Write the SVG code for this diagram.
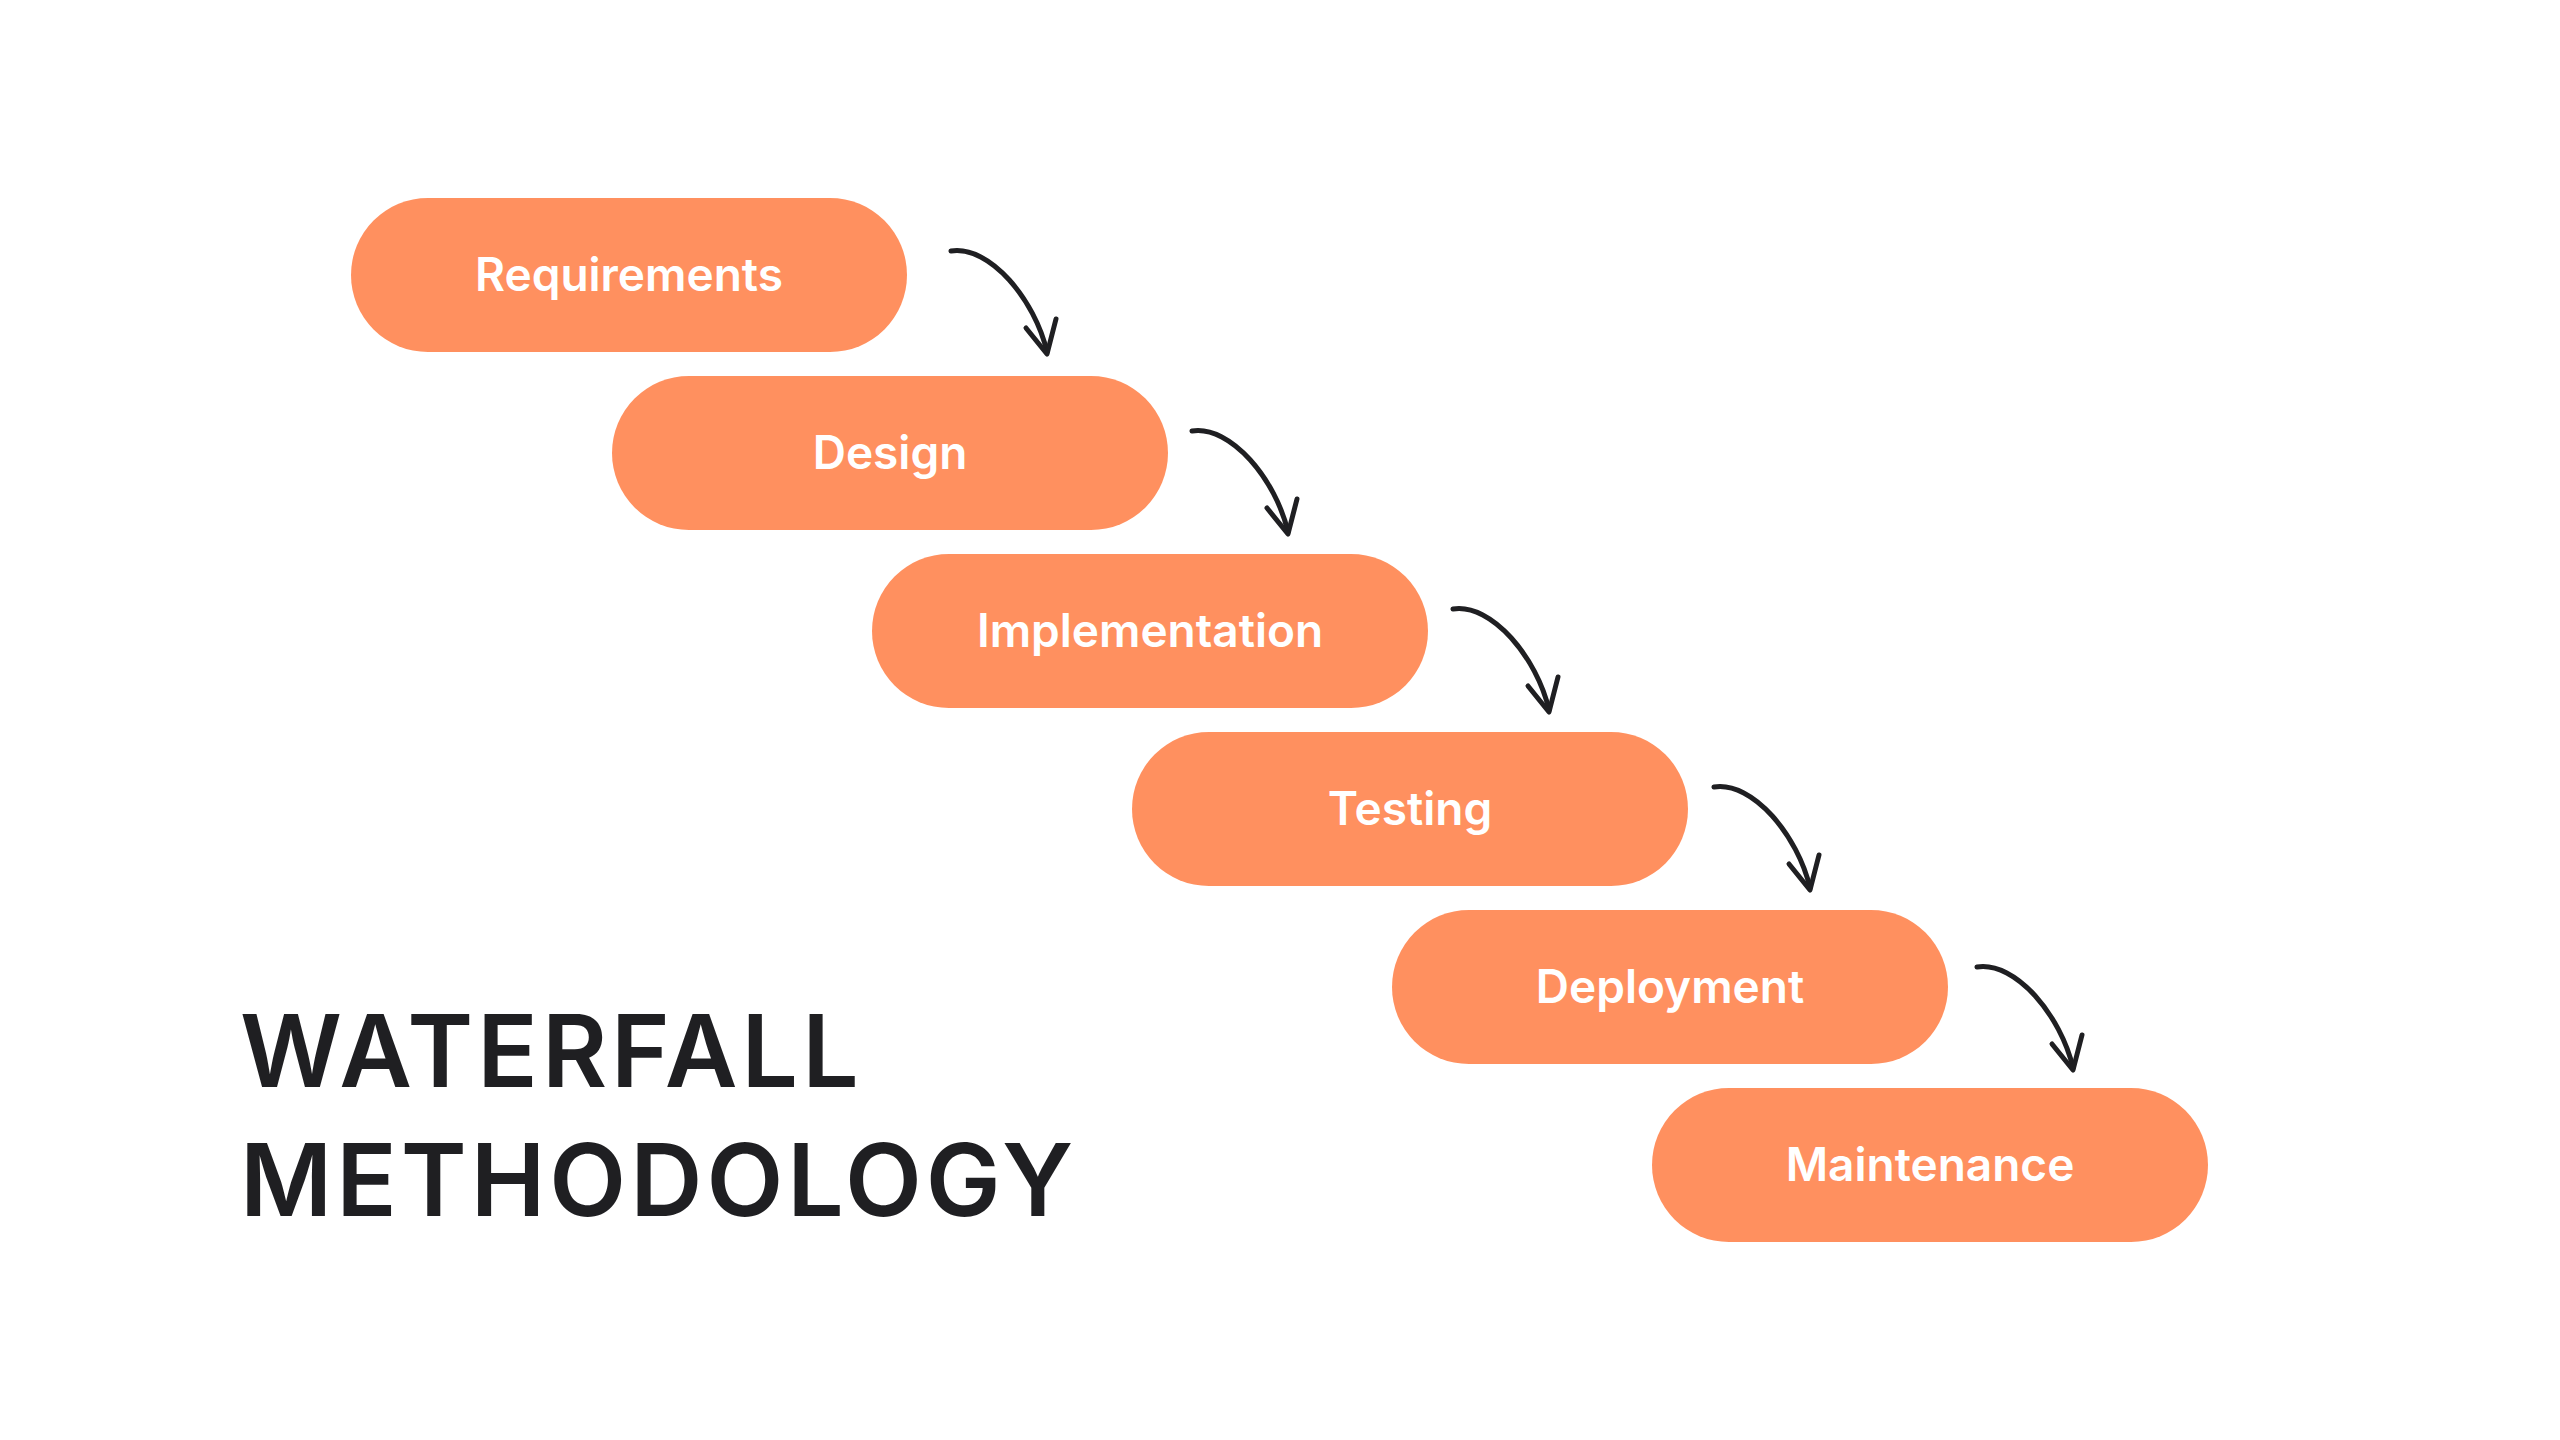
<svg xmlns="http://www.w3.org/2000/svg" width="2560" height="1440" viewBox="0 0 2560 1440">
<style>
.pill{fill:#FF905F}
.lbl{font-family:Inter,"Noto Sans",sans-serif;font-weight:600;font-size:46px;fill:#fff;text-anchor:middle}
.title{font-family:Inter,"Noto Sans",sans-serif;font-weight:600;font-size:100px;fill:#1f1f22;letter-spacing:4px}
.arr{fill:none;stroke:#1f1f22;stroke-width:5;stroke-linecap:round;stroke-linejoin:round}
</style>
<rect width="2560" height="1440" fill="#fff"/>
<g id="requirements"><rect class="pill" x="351" y="198" width="556" height="154" rx="77"/><text class="lbl" x="629" y="291">Requirements</text></g>
<g id="design"><rect class="pill" x="612" y="376" width="556" height="154" rx="77"/><text class="lbl" x="890" y="469">Design</text></g>
<g id="implementation"><rect class="pill" x="872" y="554" width="556" height="154" rx="77"/><text class="lbl" x="1150" y="647">Implementation</text></g>
<g id="testing"><rect class="pill" x="1132" y="732" width="556" height="154" rx="77"/><text class="lbl" x="1410" y="825">Testing</text></g>
<g id="deployment"><rect class="pill" x="1392" y="910" width="556" height="154" rx="77"/><text class="lbl" x="1670" y="1003">Deployment</text></g>
<g id="maintenance"><rect class="pill" x="1652" y="1088" width="556" height="154" rx="77"/><text class="lbl" x="1930" y="1181">Maintenance</text></g>
<defs>
<g id="a"><path class="arr" d="M951 251 C990 245 1035 300 1047 352"/><path class="arr" d="M1026 328 L1047 354 L1056 319"/></g>
</defs>
<g id="connectors">
<use href="#a"/>
<use href="#a" x="241" y="180"/>
<use href="#a" x="502" y="358"/>
<use href="#a" x="763" y="536"/>
<use href="#a" x="1026" y="716"/>
</g>
<g id="title">
<text class="title" x="240" y="1087">WATERFALL</text>
<text class="title" x="240" y="1216">METHODOLOGY</text>
</g>
</svg>
